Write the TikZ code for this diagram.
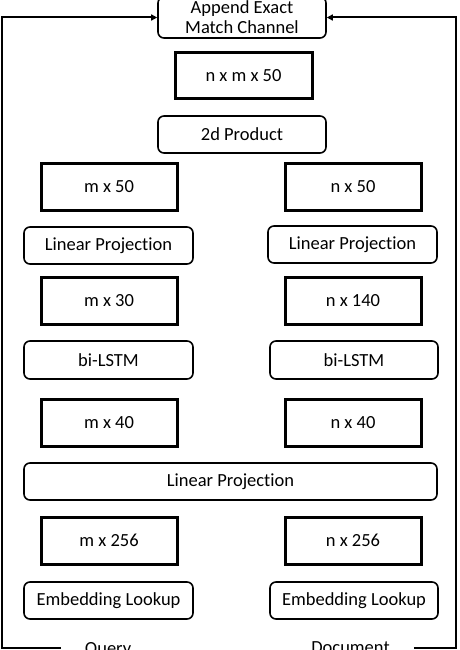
\documentclass[tikz,border=0pt]{standalone}
\usepackage{fontspec}
\setmainfont[Ligatures={NoCommon}]{Carlito}
\usetikzlibrary{arrows.meta}
\tikzset{
  dimbox/.style={draw, line width=3pt, inner sep=0pt, align=center},
  opbox/.style={draw, line width=1.6pt, rounded corners=6pt, inner sep=0pt, align=center},
  lbl/.style={inner ysep=0pt, inner xsep=24pt, text depth=0pt},
  link/.style={line width=2pt, -{Triangle[length=6pt,width=6pt]}},
}
\begin{document}
\begin{tikzpicture}[x=1pt,y=-1pt,font=\fontsize{18.5}{20}\selectfont]
\useasboundingbox (0,0) rectangle (459,650);
\clip (0,0) rectangle (459,650);
% top
\node[opbox, minimum width=168pt, minimum height=41pt] (append) at (242,17.5) {Append Exact\\Match Channel};
\node[dimbox, minimum width=137pt, minimum height=46pt] (nm50) at (243.5,76) {n x m x 50};
\node[opbox, minimum width=168pt, minimum height=37pt] (prod) at (242,134.5) {2d Product};
% query column
\node[dimbox, minimum width=136pt, minimum height=47pt] (m50) at (109,186.5) {m x 50};
\node[opbox, minimum width=169pt, minimum height=37pt] (lpq) at (108.5,245.5) {Linear Projection};
\node[dimbox, minimum width=136pt, minimum height=47pt] (m30) at (109,300.5) {m x 30};
\node[opbox, minimum width=169pt, minimum height=38pt] (lstmq) at (108.5,360) {bi-LSTM};
\node[dimbox, minimum width=136pt, minimum height=47pt] (m40) at (109,423) {m x 40};
\node[dimbox, minimum width=136pt, minimum height=47pt] (m256) at (109,540.5) {m x 256};
\node[opbox, minimum width=169pt, minimum height=37pt] (embq) at (108.5,600.5) {Embedding Lookup};
% document column
\node[dimbox, minimum width=136pt, minimum height=47pt] (n50) at (353,186.5) {n x 50};
\node[opbox, minimum width=169pt, minimum height=37pt] (lpd) at (352.5,244.5) {Linear Projection};
\node[dimbox, minimum width=136pt, minimum height=47pt] (n140) at (353,300.5) {n x 140};
\node[opbox, minimum width=168pt, minimum height=38pt] (lstmd) at (354,360) {bi-LSTM};
\node[dimbox, minimum width=136pt, minimum height=47pt] (n40) at (353,423) {n x 40};
\node[dimbox, minimum width=136pt, minimum height=47pt] (n256) at (353,540.5) {n x 256};
\node[opbox, minimum width=168pt, minimum height=37pt] (embd) at (354,600.5) {Embedding Lookup};
% shared
\node[opbox, minimum width=413pt, minimum height=37pt] (lpw) at (230.5,481.5) {Linear Projection};
% labels
\node[lbl] (query) at (108,648) {Query};
\node[lbl] (doc) at (350.5,648) {Document};
% connectors
\coordinate (lc) at (1.5,648);
\coordinate (rc) at (455.5,648);
\draw[link] (query.west) -- (lc) |- (append.west);
\draw[link] (doc.east) -- (rc) |- (append.east);
\end{tikzpicture}
\end{document}
